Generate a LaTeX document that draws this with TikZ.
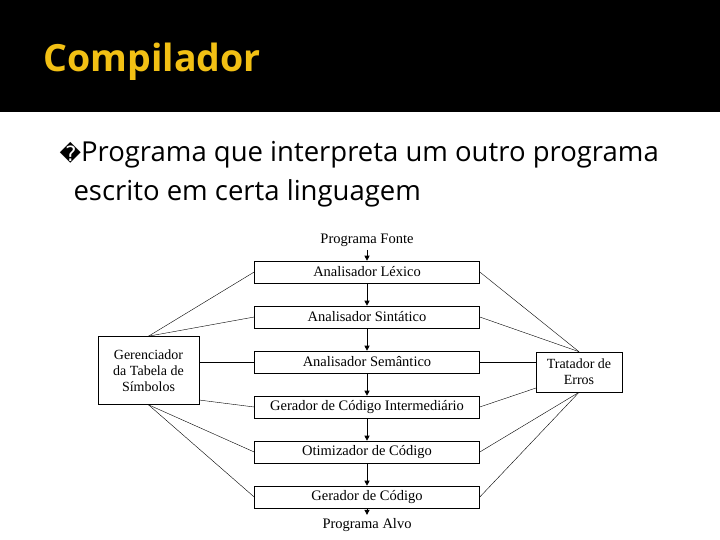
\documentclass[tikz,border=0pt]{standalone}
\usepackage{fontspec}
\setmainfont{Open Sans}
\newfontfamily\dia{Liberation Serif}
\newfontfamily\djv{DejaVu Sans}
\usetikzlibrary{arrows.meta}
\definecolor{gold}{HTML}{F2C014}
\begin{document}
\begin{tikzpicture}[x=1pt,y=-1pt,
  cbox/.style={draw,line width=0.6pt,minimum width=225pt,minimum height=22pt,inner sep=0pt,font=\dia\fontsize{14.5}{15}\selectfont},
  sbox/.style={draw,line width=0.6pt,inner sep=0pt,align=center,font=\dia\fontsize{14}{16}\selectfont},
  lbl/.style={font=\dia\fontsize{14.5}{15}\selectfont},
  ln/.style={line width=0.4pt},
  ar/.style={line width=0.6pt,-{Triangle[length=5pt,width=5pt]}}]
\useasboundingbox (0,0) rectangle (720,540);
\fill[white] (0,0) rectangle (720,540);
\fill[black] (0,0) rectangle (720,112);
\node[anchor=west,text=gold,font=\bfseries\fontsize{37.5}{40}\selectfont] (title) at (40,62) {Compilador};
\node[anchor=west,font=\fontsize{27.5}{30}\selectfont] (b1) at (56,155) {{\djv\fontsize{21}{21}\selectfont �}Programa que interpreta um outro programa};
\node[anchor=west,font=\fontsize{27.5}{30}\selectfont] (b2) at (70,193) {escrito em certa linguagem};
\node[lbl] (pf) at (367,240) {Programa Fonte};
\node[cbox] (c1) at (367,272) {Analisador Léxico};
\node[cbox] (c2) at (367,317) {Analisador Sintático};
\node[cbox] (c3) at (367,362) {Analisador Semântico};
\node[cbox] (c4) at (367,407) {Gerador de Código Intermediário};
\node[cbox] (c5) at (367,452) {Otimizador de Código};
\node[cbox] (c6) at (367,497) {Gerador de Código};
\node[lbl] (pa) at (367,525) {Programa Alvo};
\node[sbox,minimum width=101pt,minimum height=68pt] (ts) at (148.5,370.5) {Gerenciador\\da Tabela de\\Símbolos};
\node[sbox,minimum width=86pt,minimum height=40pt] (te) at (579,372) {Tratador de\\Erros};
\draw[ar] (pf) -- (c1);
\foreach \a/\b in {c1/c2,c2/c3,c3/c4,c4/c5,c5/c6} \draw[ar] (\a) -- (\b);
\draw[ar] (c6) -- (pa.north);
\draw[ln] (ts.north) -- (c1.west); \draw[ln] (ts.north) -- (c2.west);
\draw[ln] (ts.east |- c3) -- (c3.west);
\draw[ln] (199,400) -- (c4.west);
\draw[ln] (ts.south) -- (c5.west); \draw[ln] (ts.south) -- (c6.west);
\draw[ln] (te.north) -- (c1.east); \draw[ln] (te.north) -- (c2.east);
\draw[ln] (te.west |- c3) -- (c3.east);
\draw[ln] (536,388) -- (c4.east);
\draw[ln] (te.south) -- (c5.east); \draw[ln] (te.south) -- (c6.east);
\end{tikzpicture}
\end{document}
